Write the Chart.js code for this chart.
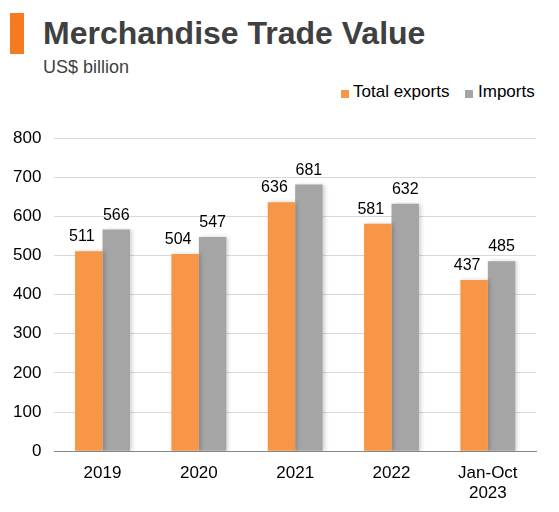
<!DOCTYPE html>
<html>
<head>
<meta charset="utf-8">
<script src="https://cdn.jsdelivr.net/npm/chart.js@4.4.0/dist/chart.umd.min.js"></script>
<style>
  html, body { margin: 0; padding: 0; background: #fff; }
  #wrap { position: relative; width: 559px; height: 512px; font-family: Arial, "Liberation Sans", sans-serif; }
  #accent { position: absolute; left: 10px; top: 13px; width: 14px; height: 41px; background: #F47B20; }
  #title { position: absolute; left: 43px; top: 15px; font-size: 32px; font-weight: bold; color: #404040; white-space: nowrap; line-height: 36px; }
  #subtitle { position: absolute; left: 43px; top: 57px; font-size: 18px; color: #404040; white-space: nowrap; line-height: 20px; }
  .lg-box { position: absolute; top: 90px; width: 8px; height: 8px; }
  .lg-text { position: absolute; top: 82px; font-size: 17px; line-height: 20px; color: #000; white-space: nowrap; }
  #chart { position: absolute; left: 0; top: 0; }
</style>
</head>
<body>
<div id="wrap">
  <div id="accent"></div>
  <div id="title">Merchandise Trade Value</div>
  <div id="subtitle">US$ billion</div>
  <div class="lg-box" style="left:341px; background:#F79646;"></div>
  <div class="lg-text" style="left:353px;">Total exports</div>
  <div class="lg-box" style="left:465px; background:#A5A5A5;"></div>
  <div class="lg-text" style="left:478px;">Imports</div>
  <canvas id="chart" width="559" height="512"></canvas>
</div>
<script>
// Merchandise trade, US$ billion
const categories = ['2019', '2020', '2021', '2022', ['Jan-Oct', '2023']];
const exportsValues = [511, 504, 636, 581, 437];
const importsValues = [566, 547, 681, 632, 485];
const yTicks = [0, 100, 200, 300, 400, 500, 600, 700, 800];

const FONT = 'Arial, "Liberation Sans", sans-serif';

// value labels above each bar, export labels nudged left like the original
const valueLabels = {
    id: 'valueLabels',
    afterDatasetsDraw(chart) {
        const ctx = chart.ctx;
        ctx.save();
        ctx.font = '16px ' + FONT;
        ctx.fillStyle = '#000';
        ctx.textAlign = 'center';
        ctx.textBaseline = 'alphabetic';
        chart.data.datasets.forEach((ds, i) => {
            const meta = chart.getDatasetMeta(i);
            meta.data.forEach((bar, j) => {
                const shift = i === 0 ? -7 : 0;
                ctx.fillText(ds.data[j], bar.x + shift, bar.y - 10);
            });
        });
        ctx.restore();
    }
};

// soft shadow under the bars
const barShadow = {
    id: 'barShadow',
    beforeDatasetsDraw(chart) {
        const ctx = chart.ctx;
        ctx.save();
        ctx.shadowColor = 'rgba(0, 0, 0, 0.18)';
        ctx.shadowBlur = 4;
        ctx.shadowOffsetX = 2;
        ctx.shadowOffsetY = 0;
    },
    afterDatasetsDraw(chart) {
        chart.ctx.restore();
    }
};

let ctx__trade = document.getElementById('chart').getContext('2d');
new Chart(ctx__trade, {
    type: 'bar',
    data: {
        labels: categories,
        datasets: [{
            label: 'Total exports',
            data: exportsValues,
            backgroundColor: '#F79646',
            categoryPercentage: 0.57,
            barPercentage: 1.0
        }, {
            label: 'Imports',
            data: importsValues,
            backgroundColor: '#A5A5A5',
            categoryPercentage: 0.57,
            barPercentage: 1.0
        }]
    },
    options: {
        responsive: false,
        animation: false,
        layout: {
            padding: { top: 138, right: 23, left: 0, bottom: 4 }
        },
        plugins: {
            legend: { display: false },
            tooltip: { enabled: false }
        },
        scales: {
            x: {
                grid: { display: false },
                border: { color: '#868686' },
                ticks: {
                    color: '#000',
                    font: { size: 17, family: FONT, lineHeight: 1.2 },
                    padding: 4
                }
            },
            y: {
                min: 0,
                max: 800,
                afterBuildTicks(axis) {
                    axis.ticks = yTicks.map(v => ({ value: v }));
                },
                grid: { color: '#D9D9D9', drawTicks: false },
                border: { display: false },
                ticks: {
                    color: '#000',
                    font: { size: 17, family: FONT },
                    padding: 13
                }
            }
        }
    },
    plugins: [barShadow, valueLabels]
});
</script>
</body>
</html>
